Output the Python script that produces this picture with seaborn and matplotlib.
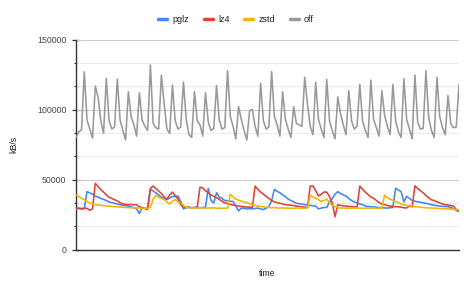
import numpy as np
import pandas as pd
import matplotlib
matplotlib.use("Agg")
import matplotlib.pyplot as plt
from matplotlib.ticker import FixedLocator
from matplotlib.lines import Line2D
import seaborn as sns

series_names = ["pglz", "lz4", "zstd", "off"]

pglz = [29000, 29200, 28900, 29100, 41300, 40500, 39500, 38000, 37500, 36500,
        35800, 35000, 34000, 33500, 33000, 32500, 32000, 31500, 31300, 31000,
        30500, 29800, 29000, 25700, 29600, 29400, 29600,
        43000, 41800, 40500, 39000, 37300, 36500, 35700, 36800, 37800, 38000,
        38200, 34200, 29000, 30000, 30200, 29800, 30000, 30300, 29800, 30000, 30200,
        43700, 35000, 33300, 40500, 37300, 36500, 35000, 34800, 34500, 34300,
        31000, 27500, 29600, 29400, 29000, 29200, 29000, 29300, 29600, 29000,
        28500, 29500, 30600, 35000,
        43000, 41500, 40500, 39000, 37800, 36000, 35000, 34000, 33000, 32800,
        32400, 32000, 31800, 31500, 31200, 31000, 29000, 29600, 30000, 30000,
        34000, 36300, 39500, 41300, 40000, 39000, 38200, 36500, 35000, 34000,
        33300, 32500, 32000, 31000, 30800, 30600, 30400, 30200, 30000, 29800,
        29700, 29600, 29800, 30000,
        43700, 42500, 41300, 34000, 38000, 36500, 35000, 34500, 34000, 33800,
        33300, 33000, 32500, 32000, 31600, 31300, 31000, 30800, 30700, 30600,
        30000, 29000, 28000, 27000]

lz4 = [29400, 29600, 29300, 29500, 29400, 28000, 29000, 47300, 45000, 42800,
       41000, 39000, 37300, 36500, 35500, 34800, 33500, 32500, 32200, 32000,
       32200, 31800, 32000, 30500, 30000, 29200, 28600,
       43700, 45300, 43500, 41800, 40000, 37500, 36000, 39000, 41000, 38500,
       36000, 32000, 30500, 30000, 30200, 29800, 30000, 30300,
       44500, 44000, 42000, 40500, 39000, 38000, 37000, 35800, 34500, 33300,
       32800, 32200, 31800, 31400, 31000, 30800, 30500, 30300, 30300, 30000,
       45300, 43000, 41000, 39500, 38000, 36500, 35000, 34000, 33500, 33000,
       32500, 32000, 31800, 31600, 31400, 31000, 30800, 30500, 30200, 30000,
       45300, 45300, 42000, 38200, 39500, 41000, 41000, 37800, 33300, 23400,
       32000, 31500, 31200, 31000, 30800, 30600, 30500, 30300,
       45300, 43000, 41000, 39200, 37500, 36600, 35000, 33500, 32500, 32000,
       31500, 31000, 30800, 30600, 30500, 30200, 29800, 29700, 31000, 30500,
       45500, 43500, 42000, 40500, 38500, 37000, 35500, 35000, 34000, 33300,
       32500, 32000, 31800, 31400, 31000, 28500, 28000]

zstd = [39000, 37800, 36600, 35500, 34300, 33300, 32800, 32000, 31800, 31600,
        31300, 31100, 31000, 30800, 30600, 30500, 30300, 30100, 30000, 29900,
        29800, 29800, 29700, 29600, 29500, 29400, 29500, 30000, 36000, 38800,
        37300, 36500, 35700, 34000, 32500, 34500, 35700, 34000, 33300, 31500,
        30000, 29800, 29700, 29800, 29600, 29700, 29800, 29500, 29700, 29600,
        29800, 29500, 29600, 29400, 29500, 29400, 39500, 37500, 36000, 35300,
        34500, 34000, 33300, 32800, 32000, 31500, 31000, 30800, 30500, 30200,
        30000, 29800, 30000, 29700, 29600, 29800, 29500, 29600, 29400, 29500,
        29700, 29400, 29500, 29400, 29600, 38800, 37500, 36600, 35500, 34300,
        35000, 36000, 33300, 31500, 30600, 29800, 29600, 29700, 29500, 29600,
        29400, 29700, 29500, 29600, 29400, 29500, 29700, 29500, 29600, 29400,
        29500, 29600, 38800, 37000, 36000, 35000, 34300, 33500, 32500, 32000,
        31500, 31200, 30900, 30600, 30400, 30200, 30000, 29800, 29700, 29600,
        29500, 29400, 29300, 29200, 29100, 29000, 28900, 28800, 28600, 28500]

off = [80000, 84000, 85500,
       127000, 92500, 86000, 79600,
       116700, 109000, 92000, 83000,
       122300, 92000, 86000, 87500,
       121700, 92500, 85000, 78200,
       112700, 95000, 89000, 81000,
       112000, 92500, 88000, 85000,
       131800, 90000, 87000, 86000,
       124600, 104000, 86000, 83000,
       117500, 92000, 86000, 87500,
       119600, 93000, 82000, 80000,
       112700, 92000, 89000, 81000,
       112000, 91000, 85000, 86500,
       117000, 92500, 86000, 87000,
       127700, 95000, 88000, 79000,
       102000, 93000, 85000, 78200,
       99000, 100000, 88000, 81000,
       118700, 92000, 86000, 87500,
       127000, 95000, 89000, 81000,
       112700, 93000, 86000, 80000,
       102000, 90000, 89000, 88000,
       123000, 104000, 88000, 82000,
       119500, 93000, 86000, 80000,
       121500, 92000, 85000, 79000,
       109000, 97000, 89000, 82000,
       113500, 92000, 86000, 88000,
       118000, 92000, 85000, 80000,
       121000, 93000, 87000, 81000,
       113500, 96000, 88000, 82000,
       118000, 92000, 84000, 80000,
       122000, 93000, 86000, 79000,
       124600, 91000, 86000, 86500,
       127700, 94000, 85000, 80000,
       123000, 95000, 87000, 82000,
       110000, 90000, 87000, 87500,
       118000]

values = {"pglz": pglz, "lz4": lz4, "zstd": zstd, "off": off}
n = len(off)
for k, v in values.items():
    assert len(v) == n, (k, len(v))

df = pd.DataFrame({
    "time": np.tile(np.arange(n), len(series_names)),
    "kB/s": np.concatenate([values[s] for s in series_names]),
    "series": np.repeat(series_names, n),
})

colors = {"pglz": "#4285F4", "lz4": "#DB4437", "zstd": "#F4B400", "off": "#999999"}

sns.set_theme(style="white")
plt.rcParams["font.family"] = ["Liberation Sans", "DejaVu Sans"]

fig = plt.figure(figsize=(4.74, 2.93), dpi=100)
ax = fig.add_axes([76 / 474, 1 - 249.5 / 293, (459 - 76) / 474, (249.5 - 39.5) / 293])

sns.lineplot(data=df, x="time", y="kB/s", hue="series", hue_order=series_names,
             palette=colors, linewidth=1.15, ax=ax, legend=False, zorder=3)

ax.set_xlim(0, n - 1)
ax.set_ylim(0, 150000)
ax.set_xticks([])
minor_vals = [50000 / 3 * k for k in range(1, 9) if k % 3 != 0]
ax.yaxis.set_major_locator(FixedLocator([0, 50000, 100000, 150000]))
ax.yaxis.set_minor_locator(FixedLocator(minor_vals))
ax.set_yticklabels(["0", "50000", "100000", "150000"])
ax.tick_params(axis="y", which="major", direction="inout", length=6, width=0.9,
               color="#333333", labelsize=6.3, labelcolor="#444444", pad=4, left=True)
ax.tick_params(axis="y", which="minor", direction="inout", length=3, width=0.8,
               color="#333333", left=True)

for v in [50000, 100000, 150000]:
    ax.axhline(v, color="#cccccc", lw=0.8, zorder=1)
for v in minor_vals:
    ax.axhline(v, color="#ebebeb", lw=0.8, zorder=1)

for s in ["top", "right"]:
    ax.spines[s].set_visible(False)
ax.spines["left"].set_color("#333333")
ax.spines["left"].set_linewidth(1.0)
ax.spines["bottom"].set_color("#333333")
ax.spines["bottom"].set_linewidth(1.0)

ax.set_xlabel("time", fontsize=6.3, color="#222222", labelpad=14)
ax.set_ylabel("kB/s", fontsize=6.3, color="#222222", labelpad=13)

handles = [Line2D([0], [0], color=colors[s], lw=2.5) for s in series_names]
fig.legend(handles, series_names, loc="center", bbox_to_anchor=(236 / 474, 1 - 20 / 293),
           ncol=4, frameon=False, fontsize=6.5, handlelength=1.0, handletextpad=0.6,
           columnspacing=1.6, labelcolor="#222222")

fig.savefig("out.png", dpi=100)
